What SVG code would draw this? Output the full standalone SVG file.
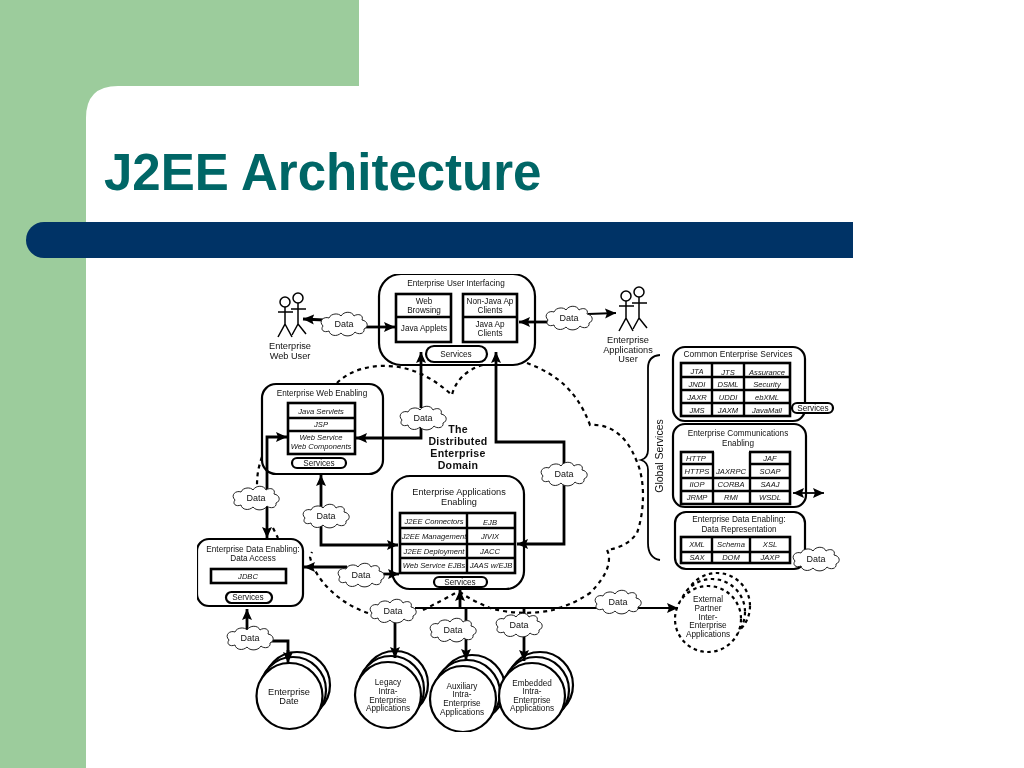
<svg xmlns="http://www.w3.org/2000/svg" xmlns:xlink="http://www.w3.org/1999/xlink" width="1024" height="768" viewBox="0 0 1024 768">
<style>
text{font-family:"Liberation Sans",Arial,sans-serif;fill:#111;text-anchor:middle;font-size:8.2px}
.i{font-style:italic;font-size:7.6px}
.lbl{font-size:9.2px}
.box{fill:#fff;stroke:#000;stroke-width:2.2}
.tb{fill:#fff;stroke:#000;stroke-width:2.6}
.ln{fill:none;stroke:#000;stroke-width:2.4}
.pill{fill:#fff;stroke:#000;stroke-width:2.2}
.circ{fill:#fff;stroke:#000;stroke-width:2.2}
.dcirc{fill:#fff;stroke:#000;stroke-width:2.2;stroke-dasharray:3.5 3.5}
.dash{fill:none;stroke:#000;stroke-width:2.2;stroke-dasharray:4 4}
.c{fill:none;stroke:#000;stroke-width:2.8}
.ca{fill:none;stroke:#000;stroke-width:2.8;marker-end:url(#ah)}
.ct{fill:none;stroke:#000;stroke-width:2;marker-end:url(#ah)}
.cloud{fill:#fff;stroke:#222;stroke-width:1}
.fig{fill:none;stroke:#000;stroke-width:1.5}
.d{font-size:9px}
.dom{font-weight:bold;font-size:10.6px;letter-spacing:.3px}
.title{font-family:"Liberation Sans",Arial,sans-serif;font-weight:bold;font-size:51px;fill:#006666;text-anchor:start}
</style>
<defs>
<filter id="soft" x="0" y="0" width="100%" height="100%"><feGaussianBlur stdDeviation="0.4"/></filter>
<marker id="ah" markerUnits="userSpaceOnUse" markerWidth="14" markerHeight="12" refX="11" refY="5" orient="auto">
<path d="M0,0 L11,5 L0,10 L2,5 Z" fill="#000"/>
</marker>
<marker id="ahs" markerUnits="userSpaceOnUse" markerWidth="14" markerHeight="12" refX="11" refY="5" orient="auto-start-reverse">
<path d="M0,0 L11,5 L0,10 L2,5 Z" fill="#000"/>
</marker>
<path id="cl" class="cloud" d="M-21,2 C-26,-3 -20,-8 -15,-6 C-13,-11 -5,-11 -3,-8 C0,-13 8,-13 10,-8 C14,-11 20,-9 18,-4 C24,-3 25,3 20,5 C21,10 14,11 11,8 C8,13 0,13 -3,9 C-7,13 -14,12 -15,7 C-20,9 -24,6 -21,2 Z"/>
<g id="figs" class="fig">
<circle cx="285" cy="302" r="5"/><path d="M285,307 V324 L278,337 M285,324 L292,337 M278,312 H293"/>
<circle cx="298" cy="298" r="5"/><path d="M298,303 V324 L306,334 M298,324 L292,335 M291,309 H306"/>
</g>
</defs>

<rect id="bg" width="1024" height="768" fill="#fff"/>
<path id="frame" d="M0,0 H359 V86 H118 Q86,86 86,118 V768 H0 Z" fill="#9ccc9c"/>
<text class="title" x="104" y="190">J2EE Architecture</text>
<path id="bar" d="M44,222 H853 V258 H44 A18,18 0 0 1 44,222 Z" fill="#003366"/>

<g id="diagram" filter="url(#soft)">
<g id="domain-cloud">
<path class="dash" d="M337,383 C350,370 370,365 388,366 C415,367 435,380 452,395 C455,382 465,370 483,365 M527,363 C550,372 575,385 590,425 C605,424 625,430 637,462 C645,480 645,510 637,533 C630,543 620,548 607,550 C612,560 608,575 590,593 C575,603 565,606 553,610 C535,614 510,614 490,608 C480,604 468,598 460,592"/>
<path class="dash" d="M423,610 C435,604 447,598 457,592 M368,613 C340,604 315,580 310,557 L312,552 M273,528 L278,538 M262,457 C258,468 257,476 257,486"/>
</g>

<g id="node-web-user"><use href="#figs" xlink:href="#figs"/><text class="lbl" x="290" y="349">Enterprise</text><text class="lbl" x="290" y="358.500">Web User</text></g>
<g id="node-app-user"><use href="#figs" xlink:href="#figs" transform="translate(341,-6)"/><text class="lbl" x="628" y="343">Enterprise</text><text class="lbl" x="628" y="352.500">Applications</text><text class="lbl" x="628" y="362">User</text></g>

<g id="node-user-interfacing">
<rect class="box" x="379" y="274" width="156" height="91" rx="22"/>
<text x="456" y="285.500">Enterprise User Interfacing</text>
<rect class="tb" x="396" y="294" width="55" height="48"/><path class="ln" d="M396,317 H451"/>
<rect class="tb" x="463" y="294" width="54" height="48"/><path class="ln" d="M463,317 H517"/>
<text x="424" y="304">Web</text><text x="424" y="313">Browsing</text><text x="424" y="331">Java Applets</text>
<text x="490" y="304">Non-Java Ap</text><text x="490" y="313">Clients</text><text x="490" y="327">Java Ap</text><text x="490" y="336">Clients</text>
<rect class="pill" x="426" y="346" width="61" height="16" rx="8"/><text x="456" y="357">Services</text>
</g>

<g id="node-web-enabling">
<rect class="box" x="262" y="384" width="121" height="90" rx="14"/>
<text x="322" y="396">Enterprise Web Enabling</text>
<rect class="tb" x="288" y="403" width="67" height="51"/><path class="ln" d="M288,418 H355 M288,431 H355"/>
<text class="i" x="321" y="414">Java Servlets</text><text class="i" x="321" y="427">JSP</text><text class="i" x="321" y="440">Web Service</text><text class="i" x="321" y="449">Web Components</text>
<rect class="pill" x="292" y="458" width="54" height="10" rx="5"/><text x="319" y="465.500">Services</text>
</g>

<g id="node-apps-enabling">
<rect class="box" x="392" y="476" width="132" height="113" rx="18"/>
<text class="lbl" x="459" y="495">Enterprise Applications</text><text class="lbl" x="459" y="505">Enabling</text>
<rect class="tb" x="400" y="513" width="115" height="60"/><path class="ln" d="M400,528 H515 M400,544 H515 M400,558 H515 M467,513 V573"/>
<text class="i" x="434" y="523.500">J2EE Connectors</text><text class="i" x="490" y="525">EJB</text>
<text class="i" x="434" y="539">J2EE Management</text><text class="i" x="490" y="539">JIVIX</text>
<text class="i" x="434" y="554">J2EE Deployment</text><text class="i" x="490" y="554">JACC</text>
<text class="i" x="434" y="568">Web Service EJBs</text><text class="i" x="491" y="568">JAAS w/EJB</text>
<rect class="pill" x="434" y="577" width="53" height="10" rx="5"/><text x="460" y="584.500">Services</text>
</g>

<g id="node-data-access">
<rect class="box" x="197" y="539" width="106" height="67" rx="12"/>
<text x="253" y="552">Enterprise Data Enabling:</text><text x="253" y="561">Data Access</text>
<rect class="tb" x="211" y="569" width="75" height="14"/><text class="i" x="248" y="579">JDBC</text>
<rect class="pill" x="226" y="592" width="46" height="11" rx="5.500"/><text x="248" y="600">Services</text>
</g>

<g id="node-common-services">
<rect class="box" x="673" y="347" width="132" height="74" rx="12"/>
<text style="font-size:8.4px" x="738" y="357">Common Enterprise Services</text>
<rect class="tb" x="681" y="363" width="109" height="53"/><path class="ln" d="M681,377 H790 M681,390 H790 M681,403 H790 M712,363 V416 M744,363 V416"/>
<text class="i" x="697" y="373.500">JTA</text><text class="i" x="728" y="374.500">JTS</text><text class="i" x="767" y="374.500">Assurance</text>
<text class="i" x="697" y="386.500">JNDI</text><text class="i" x="728" y="386.500">DSML</text><text class="i" x="767" y="386.500">Security</text>
<text class="i" x="697" y="400">JAXR</text><text class="i" x="728" y="400">UDDI</text><text class="i" x="767" y="400">ebXML</text>
<text class="i" x="697" y="412.500">JMS</text><text class="i" x="728" y="412.500">JAXM</text><text class="i" x="767" y="412.500">JavaMail</text>
<rect class="pill" x="792" y="403" width="41" height="10" rx="5"/><text x="813" y="411">Services</text>
</g>

<g id="node-comm-enabling">
<rect class="box" x="673" y="424" width="133" height="83" rx="12"/>
<text x="738" y="436">Enterprise Communications</text><text x="738" y="446">Enabling</text>
<rect class="tb" x="681" y="452" width="109" height="52"/><rect x="714" y="450" width="35" height="4" fill="#fff"/>
<path class="ln" d="M681,464 H712 M750,464 H790 M681,478 H790 M681,491 H790 M713,452 V504 M750,452 V504"/>
<text class="i" x="696" y="461">HTTP</text><text class="i" x="770" y="461">JAF</text>
<text class="i" x="697" y="474">HTTPS</text><text class="i" x="731" y="474">JAXRPC</text><text class="i" x="770" y="474">SOAP</text>
<text class="i" x="697" y="487">IIOP</text><text class="i" x="731" y="487">CORBA</text><text class="i" x="770" y="487">SAAJ</text>
<text class="i" x="697" y="499.500">JRMP</text><text class="i" x="731" y="499.500">RMI</text><text class="i" x="770" y="499.500">WSDL</text>
</g>

<g id="node-data-representation">
<rect class="box" x="675" y="512" width="130" height="57" rx="11"/>
<text x="739" y="522">Enterprise Data Enabling:</text><text x="739" y="532">Data Representation</text>
<rect class="tb" x="681" y="537" width="109" height="26"/><path class="ln" d="M681,552 H790 M712,537 V563 M750,537 V563"/>
<text class="i" x="697" y="547">XML</text><text class="i" x="731" y="547">Schema</text><text class="i" x="770" y="547">XSL</text>
<text class="i" x="697" y="560">SAX</text><text class="i" x="731" y="560">DOM</text><text class="i" x="770" y="560">JAXP</text>
</g>

<g id="global-services">
<path class="ln" style="stroke-width:1.8" d="M660,355 Q648,356 648,368 V450 Q648,458 641,460 Q648,462 648,470 V543 Q648,558 660,560"/>
<text transform="translate(663,456) rotate(-90)" style="font-size:10.500px">Global Services</text>
</g>

<g id="node-enterprise-date">
<circle class="circ" cx="297" cy="685" r="33"/><circle class="circ" cx="293" cy="690" r="33"/><circle class="circ" cx="289.500" cy="696" r="33"/>
<text class="lbl" x="289" y="695">Enterprise</text><text class="lbl" x="289" y="704">Date</text>
</g>
<g id="node-legacy">
<circle class="circ" cx="395" cy="684" r="33"/><circle class="circ" cx="391" cy="689" r="33"/><circle class="circ" cx="388" cy="695" r="33"/>
<text x="388" y="685">Legacy</text><text x="388" y="694">Intra-</text><text x="388" y="703">Enterprise</text><text x="388" y="711">Applications</text>
</g>
<g id="node-auxiliary">
<circle class="circ" cx="472" cy="688" r="33"/><circle class="circ" cx="467" cy="693" r="33"/><circle class="circ" cx="463" cy="699" r="33"/>
<text x="462" y="689">Auxiliary</text><text x="462" y="697">Intra-</text><text x="462" y="706">Enterprise</text><text x="462" y="715">Applications</text>
</g>
<g id="node-embedded">
<circle class="circ" cx="540" cy="685" r="33"/><circle class="circ" cx="536" cy="690" r="33"/><circle class="circ" cx="532" cy="696" r="33"/>
<text x="532" y="686">Embedded</text><text x="532" y="694">Intra-</text><text x="532" y="703">Enterprise</text><text x="532" y="711">Applications</text>
</g>
<g id="node-external">
<circle class="dcirc" cx="717" cy="606" r="33"/><circle class="dcirc" cx="712" cy="612" r="33"/><circle class="dcirc" cx="708" cy="619" r="33"/>
<text x="708" y="602">External</text><text x="708" y="611">Partner</text><text x="708" y="620">Inter-</text><text x="708" y="628">Enterprise</text><text x="708" y="637">Applications</text>
</g>

<g id="connectors">
<path class="ca" d="M324,320 L303,319"/>
<path class="ca" d="M365,327 H395"/>
<path class="ca" d="M548,322 H519"/>
<path class="ct" d="M588,314 L616,313"/>
<path class="ca" d="M421,408 V352"/>
<path class="ca" d="M421,425 V438 H356"/>
<path class="ca" d="M564,464 V442 H496 V352"/>
<path class="ca" d="M564,484 V544 H517"/>
<path class="ca" d="M267,490 V437 H287"/>
<path class="ca" d="M267,505 V538"/>
<path class="ca" d="M321,508 V475"/>
<path class="ca" d="M321,524 V545 H398"/>
<path class="ca" d="M347,567 H304"/>
<path class="ca" d="M380,574 H399"/>
<path class="ca" d="M247,630 V609"/>
<path class="c" d="M270,641 H288 V655"/><path class="ca" d="M288,650 V663"/>
<path class="ct" d="M415,608 H678"/>
<path class="ca" d="M460,608 V590"/>
<path class="ca" d="M395,620 V658"/>
<path class="c" d="M466,608 V622"/><path class="ca" d="M466,638 V660"/>
<path class="c" d="M524,608 V616"/><path class="ca" d="M524,634 V661"/>
<path d="M793,493 H824" fill="none" stroke="#000" stroke-width="1.800" marker-start="url(#ahs)" marker-end="url(#ah)"/>
</g>

<g id="data-clouds">
<use href="#cl" xlink:href="#cl" x="344" y="324"/><text class="d" x="344" y="327">Data</text>
<use href="#cl" xlink:href="#cl" x="569" y="318"/><text class="d" x="569" y="321">Data</text>
<use href="#cl" xlink:href="#cl" x="423" y="418"/><text class="d" x="423" y="421">Data</text>
<use href="#cl" xlink:href="#cl" x="564" y="474"/><text class="d" x="564" y="477">Data</text>
<use href="#cl" xlink:href="#cl" x="256" y="498"/><text class="d" x="256" y="501">Data</text>
<use href="#cl" xlink:href="#cl" x="326" y="516"/><text class="d" x="326" y="519">Data</text>
<use href="#cl" xlink:href="#cl" x="361" y="575"/><text class="d" x="361" y="578">Data</text>
<use href="#cl" xlink:href="#cl" x="393" y="611"/><text class="d" x="393" y="614">Data</text>
<use href="#cl" xlink:href="#cl" x="453" y="630"/><text class="d" x="453" y="633">Data</text>
<use href="#cl" xlink:href="#cl" x="519" y="625"/><text class="d" x="519" y="628">Data</text>
<use href="#cl" xlink:href="#cl" x="618" y="602"/><text class="d" x="618" y="605">Data</text>
<use href="#cl" xlink:href="#cl" x="250" y="638"/><text class="d" x="250" y="641">Data</text>
<use href="#cl" xlink:href="#cl" x="816" y="559"/><text class="d" x="816" y="562">Data</text>
</g>

<g id="domain-label">
<text class="dom" x="458" y="433">The</text><text class="dom" x="458" y="445">Distributed</text><text class="dom" x="458" y="457">Enterprise</text><text class="dom" x="458" y="469">Domain</text>
</g>
</g>
</svg>
